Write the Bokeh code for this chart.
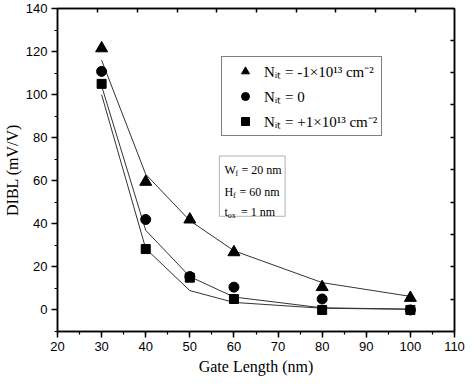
from bokeh.plotting import figure
from bokeh.models import (Range1d, LinearAxis, SingleIntervalTicker, FixedTicker, Legend, LegendItem,
                          BoxAnnotation, Label)
from bokeh.embed import file_html
from bokeh.resources import INLINE

# ---- data ----
gate_length = [30, 40, 50, 60, 80, 100]
dibl_neg = [121.5, 59.5, 42.0, 26.8, 10.6, 5.6]     # Nit = -1e13 (triangles)
dibl_zero = [110.8, 42.0, 15.5, 10.6, 5.1, 0.0]     # Nit = 0 (circles)
dibl_pos = [105.0, 28.3, 15.0, 5.1, 0.0, 0.0]       # Nit = +1e13 (squares)
fit_neg = [116.0, 63.0, 41.5, 27.5, 12.7, 6.3]
fit_zero = [104.0, 37.0, 15.5, 6.0, 1.0, 0.4]
fit_pos = [100.0, 28.5, 9.0, 3.5, 0.8, 0.3]
legend_labels = ["N\u1d62\u209c = -1\u00d710\u00b9\u00b3 cm\u207b\u00b2",
                 "N\u1d62\u209c = 0",
                 "N\u1d62\u209c = +1\u00d710\u00b9\u00b3 cm\u207b\u00b2"]
param_main = ["W", "H", "t"]
param_sub = ["f", "f", "ox"]
param_rest = ["= 20 nm", "= 60 nm", "= 1 nm"]
top_ticks = [29.1, 38.1, 47.1, 56.1, 65.1, 74.1, 83.1, 92.1, 101.1]
right_ticks = [4.9, 20.0, 35.0, 50.0, 65.1, 80.1, 95.2, 110.2, 125.3]

SERIF = "Liberation Serif"
SANS = "Liberation Sans"

p = figure(width=466, height=379, output_backend="svg", toolbar_location=None,
           x_range=Range1d(20, 110), y_range=Range1d(-10, 140),
           min_border_left=52, min_border_right=12, min_border_top=8, min_border_bottom=48,
           background_fill_color="white", border_fill_color="white")
p.grid.visible = False
p.outline_line_color = "black"
p.outline_line_width = 1.5

p.xaxis.ticker = SingleIntervalTicker(interval=10, num_minor_ticks=2)
p.yaxis.ticker = SingleIntervalTicker(interval=20, num_minor_ticks=2)
for ax in (p.xaxis[0], p.yaxis[0]):
    ax.axis_line_width = 1.5
    ax.major_tick_line_width = 1.5
    ax.minor_tick_line_width = 1.2
    ax.major_tick_out = 6
    ax.major_tick_in = 0
    ax.minor_tick_out = 3
    ax.minor_tick_in = 0
    ax.major_label_text_font = SANS
    ax.major_label_text_font_size = "13px"
    ax.major_label_text_color = "black"
    ax.axis_label_text_font = SERIF
    ax.axis_label_text_font_size = "16px"
    ax.axis_label_text_font_style = "normal"
    ax.axis_label_text_color = "black"
p.xaxis.axis_label = "Gate Length (nm)"
p.yaxis.axis_label = "DIBL (mV/V)"
p.xaxis.major_label_standoff = 4
p.xaxis.axis_label_standoff = 4
p.yaxis.major_label_standoff = 4
p.yaxis.axis_label_standoff = 2

top = LinearAxis(ticker=FixedTicker(ticks=top_ticks, minor_ticks=[]),
                 major_tick_in=4, major_tick_out=0, minor_tick_in=0, minor_tick_out=0,
                 major_label_text_font_size="1px", major_label_text_color=None,
                 major_label_standoff=0,
                 axis_line_width=1.5, major_tick_line_width=1.5)
right = LinearAxis(ticker=FixedTicker(ticks=right_ticks, minor_ticks=[]),
                   major_tick_in=4, major_tick_out=0, minor_tick_in=0, minor_tick_out=0,
                   major_label_text_font_size="1px", major_label_text_color=None,
                   major_label_standoff=0,
                   axis_line_width=1.5, major_tick_line_width=1.5)
p.add_layout(top, "above")
p.add_layout(right, "right")

line_color = "#333333"
p.line(gate_length, fit_neg, line_color=line_color, line_width=1)
p.line(gate_length, fit_zero, line_color=line_color, line_width=1)
p.line(gate_length, fit_pos, line_color=line_color, line_width=1)

r1 = p.scatter(gate_length, dibl_neg, marker="triangle", size=12, color="black")
r2 = p.scatter(gate_length, dibl_zero, marker="circle", size=10, color="black")
r3 = p.scatter(gate_length, dibl_pos, marker="square", size=9, color="black")

legend = Legend(items=[LegendItem(label=legend_labels[0], renderers=[r1]),
                       LegendItem(label=legend_labels[1], renderers=[r2]),
                       LegendItem(label=legend_labels[2], renderers=[r3])],
                location=(164, 195), orientation="vertical",
                padding=4, margin=0, spacing=5,
                glyph_width=38, glyph_height=20, label_height=20, label_standoff=0,
                label_text_font=SERIF, label_text_font_size="15px", label_text_color="black",
                border_line_color="black", border_line_width=1,
                background_fill_color="white", background_fill_alpha=1)
p.add_layout(legend)

box = BoxAnnotation(left=56.7, right=71.6, top=71.5, bottom=43.5,
                    fill_color="white", fill_alpha=1, line_color="black", line_width=1)
p.add_layout(box)

baselines = [64.8, 54.6, 45.3]
sub_offsets = [11.0, 8.5, 3.4]
rest_offsets = [17.0, 15.0, 16.5]
for i in range(3):
    p.add_layout(Label(x=57.85, y=baselines[i], text=param_main[i], text_font=SERIF,
                       text_font_size="12px", text_baseline="alphabetic", text_color="black"))
    p.add_layout(Label(x=57.85, y=baselines[i], x_offset=sub_offsets[i], y_offset=-3,
                       text=param_sub[i], text_font=SERIF, text_font_size="8px",
                       text_baseline="alphabetic", text_color="black"))
    p.add_layout(Label(x=57.85, y=baselines[i], x_offset=rest_offsets[i], text=param_rest[i],
                       text_font=SERIF, text_font_size="12px", text_baseline="alphabetic",
                       text_color="black"))

open("out.html", "w").write(file_html(p, INLINE))
